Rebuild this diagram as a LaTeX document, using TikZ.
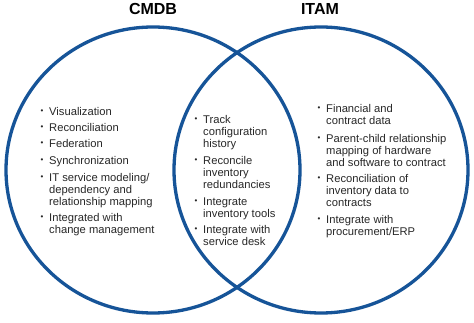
\documentclass[tikz,border=0pt]{standalone}
\usepackage{fontspec}
\setmainfont{Liberation Sans}
\usetikzlibrary{shapes.geometric}
\definecolor{ringblue}{RGB}{22,84,152}
\definecolor{txt}{RGB}{40,40,40}
\newcommand{\bul}{\makebox[8.5pt][l]{\raisebox{1.4pt}{\fontsize{8}{8}\selectfont\textbullet}}\rule{0pt}{8pt}}
\newcommand{\ind}{\hspace*{8.5pt}}
\begin{document}
\begin{tikzpicture}[x=1pt,y=-1pt,
  ring/.style={ellipse,draw=ringblue,line width=3.3pt,minimum width=294pt,minimum height=286pt,inner sep=0pt},
  title/.style={font=\fontsize{16}{18}\selectfont\bfseries,text=black,inner sep=0pt},
  itm/.style={anchor=north west,align=left,inner sep=0pt,text=txt,
    font=\fontsize{11.2}{12}\selectfont}]
\useasboundingbox (0,0) rectangle (474,323);
\fill[white] (0,0) rectangle (474,323);
\node[ring] (cmdb) at (153,170) {};
\node[ring] (itam) at (321,170) {};
\node[title] (tc) at (153,9) {CMDB};
\node[title] (ti) at (320,9) {ITAM};
% left
\node[itm] (l1) at (40.5,107) {\bul Visualization};
\node[itm] (l2) at (40.5,123) {\bul Reconciliation};
\node[itm] (l3) at (40.5,139) {\bul Federation};
\node[itm] (l4) at (40.5,156) {\bul Synchronization};
\node[itm] (l5) at (40.5,173) {\bul IT service modeling/\\\ind dependency and\\\ind relationship mapping};
\node[itm] (l6) at (40.5,213) {\bul Integrated with\\\ind change management};
% middle
\node[itm] (m1) at (194.5,115) {\bul Track\\\ind configuration\\\ind history};
\node[itm] (m2) at (194.5,156) {\bul Reconcile\\\ind inventory\\\ind redundancies};
\node[itm] (m3) at (194.5,197) {\bul Integrate\\\ind inventory tools};
\node[itm] (m4) at (194.5,225) {\bul Integrate with\\\ind service desk};
% right
\node[itm] (r1) at (317.5,104) {\bul Financial and\\\ind contract data};
\node[itm] (r2) at (317.5,134) {\bul Parent-child relationship\\\ind mapping of hardware\\\ind and software to contract};
\node[itm] (r3) at (317.5,174) {\bul Reconciliation of\\\ind inventory data to\\\ind contracts};
\node[itm] (r4) at (317.5,215) {\bul Integrate with\\\ind procurement/ERP};
\end{tikzpicture}
\end{document}
